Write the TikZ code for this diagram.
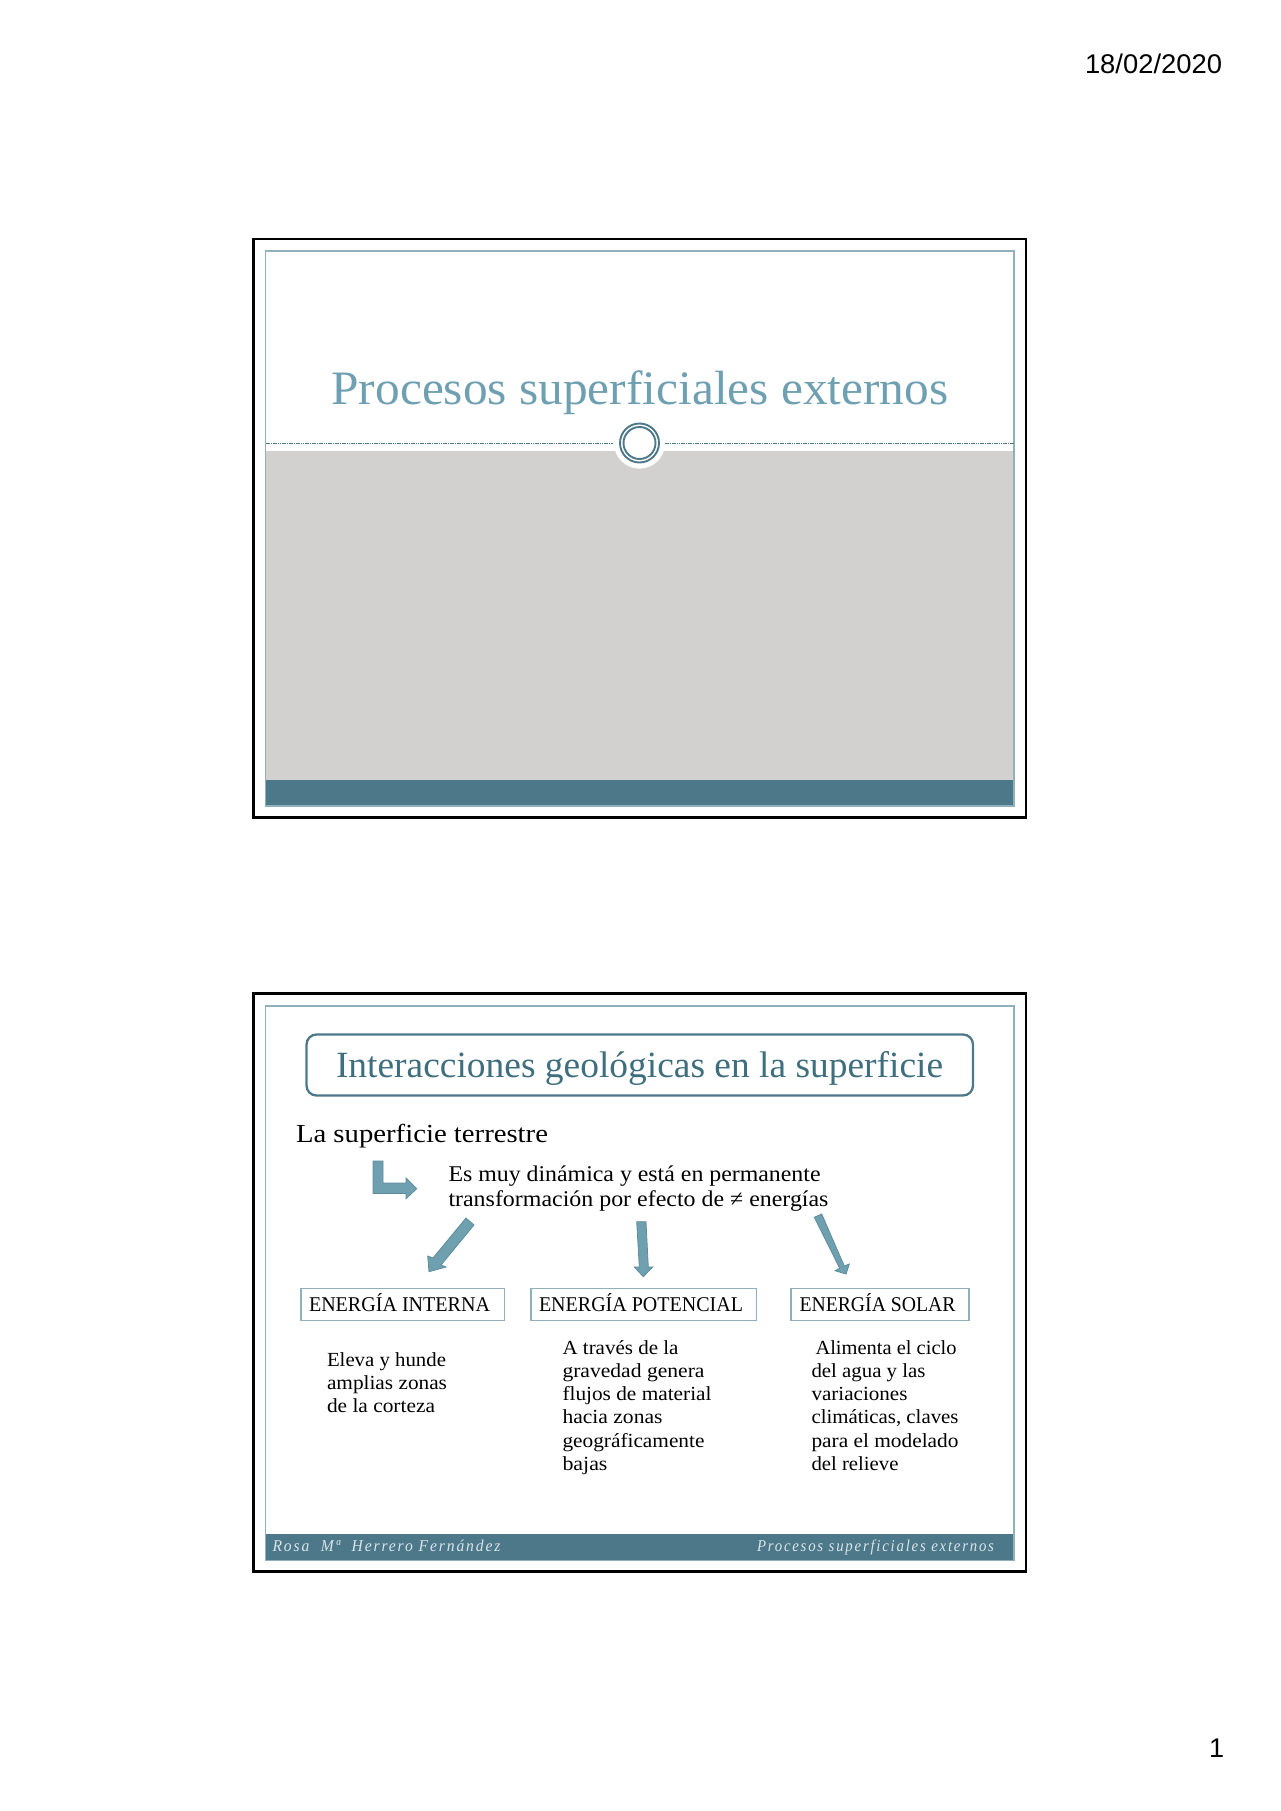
\documentclass[tikz,border=0pt]{standalone}
\usepackage{fontspec}
\setmainfont{Liberation Serif}
\newfontfamily\sansf{Liberation Sans}
\definecolor{barteal}{HTML}{4C7889}
\definecolor{frameteal}{HTML}{8FB0BC}
\definecolor{lightteal}{HTML}{6FA0B2}
\definecolor{darkteal}{HTML}{3F6E7E}
\definecolor{panelgray}{HTML}{D2D1CF}
\definecolor{arrowfill}{HTML}{6FA0B0}
\definecolor{arrowline}{HTML}{5F8C9C}
\definecolor{foottext}{HTML}{D9E6EA}
\newcommand{\fs}[1]{\fontsize{#1}{#1}\selectfont}
\newcommand{\fitw}[2]{\resizebox{#1pt}{\height}{#2}}
\tikzset{
  txt/.style={anchor=base west,inner sep=0pt,outer sep=0pt},
  outerframe/.style={draw=black,line width=2.4pt,fill=white},
  innerframe/.style={draw=frameteal,line width=1.4pt},
  energybox/.style={draw=frameteal,line width=1.5pt,fill=white},
  blockarrow/.style={fill=arrowfill,draw=arrowline,line width=0.8pt,line join=miter},
  dashrule/.style={draw=barteal,line width=1pt,dash pattern=on 1.6pt off 0.7pt},
  ring/.style={draw=barteal,line width=1.9pt},
}
\begin{document}
\begin{tikzpicture}[x=1pt,y=-1pt]
\useasboundingbox (0,0) rectangle (1280,1811);
\fill[white] (0,0) rectangle (1280,1811);

% page furniture
\node[txt] (date) at (1085,73.5) {\sansf\fs{27}\fitw{137}{18/02/2020}};
\node[txt] (pageno) at (1209,1757) {\sansf\fs{27}1};

% slide 1
\draw[outerframe] (253.5,239) rectangle (1026,817.5);
\fill[panelgray] (266,451) rectangle (1014,780);
\fill[barteal] (266,780) rectangle (1014,806);
\draw[innerframe] (265.5,251) rectangle (1014,806);
\draw[dashrule] (266,443) -- (613,443);
\draw[dashrule] (665,443) -- (1014,443);
\fill[white] (639.5,443) circle (25.6);
\draw[ring] (639.5,443) circle (19.5);
\draw[ring] (639.5,443) circle (16);
\node[txt,text=lightteal] (t1) at (331.5,404) {\fs{48}\fitw{617}{Procesos superficiales externos}};

% slide 2
\draw[outerframe] (253.5,993.5) rectangle (1026,1571.5);
\fill[barteal] (266,1534) rectangle (1014,1560.5);
\draw[innerframe] (265.5,1006) rectangle (1014,1560.5);
\draw[draw=barteal,line width=2.3pt,rounded corners=10pt] (306.5,1034.5) rectangle (973,1095.5);
\node[txt,text=darkteal] (t2) at (336,1077) {\fs{37}\fitw{607}{Interacciones geológicas en la superficie}};
\node[txt] (lead) at (296,1142) {\fs{26}\fitw{252}{La superficie terrestre}};
\node[txt] (es1) at (448.5,1181) {\fs{22.5}\fitw{372}{Es muy dinámica y está en permanente}};
\node[txt] (es2) at (448.5,1206.5) {\fs{22.5}\fitw{380}{transformación por efecto de ≠ energías}};

% block arrows
\draw[blockarrow] (373,1161) -- (383,1161) -- (383,1183) -- (406,1183) -- (406,1178) -- (416.7,1188.7) -- (406,1198.7) -- (406,1193.5) -- (373,1193.5) -- cycle;
\draw[blockarrow] (466,1218) -- (474,1225) -- (441,1265) -- (446,1267) -- (429,1271.7) -- (427.7,1256) -- (433,1258) -- cycle;
\draw[blockarrow] (636.7,1221.7) -- (646,1221.7) -- (648.3,1267) -- (652.7,1267) -- (643.3,1276.7) -- (634.3,1267) -- (639.3,1267) -- cycle;
\draw[blockarrow] (814.3,1217.3) -- (821.7,1214) -- (844.3,1266) -- (849.3,1264) -- (846,1274) -- (835,1270.7) -- (839.7,1268.3) -- cycle;

% energy boxes
\draw[energybox] (301,1288.5) rectangle (504.5,1320.5);
\draw[energybox] (531,1288.5) rectangle (756.5,1320.5);
\draw[energybox] (791,1288.5) rectangle (969,1320.5);
\node[txt] (e1) at (309,1311) {\fs{21}\fitw{181}{ENERGÍA INTERNA}};
\node[txt] (e2) at (539,1311) {\fs{21}\fitw{204}{ENERGÍA POTENCIAL}};
\node[txt] (e3) at (799.5,1311) {\fs{21}\fitw{156}{ENERGÍA SOLAR}};

% column 1
\node[txt] (c1a) at (327,1366) {\fs{20}\fitw{119}{Eleva y hunde}};
\node[txt] (c1b) at (327,1389) {\fs{20}\fitw{120}{amplias zonas}};
\node[txt] (c1c) at (327,1412.5) {\fs{20}\fitw{108}{de la corteza}};
% column 2
\node[txt] (c2a) at (562.5,1354) {\fs{20}\fitw{116}{A través de la}};
\node[txt] (c2b) at (562.5,1377) {\fs{20}\fitw{142}{gravedad genera}};
\node[txt] (c2c) at (562.5,1400.5) {\fs{20}\fitw{149}{flujos de material}};
\node[txt] (c2d) at (562.5,1423.5) {\fs{20}\fitw{100}{hacia zonas}};
\node[txt] (c2e) at (562.5,1447) {\fs{20}\fitw{142}{geográficamente}};
\node[txt] (c2f) at (562.5,1470) {\fs{20}\fitw{45}{bajas}};
% column 3
\node[txt] (c3a) at (815.5,1354) {\fs{20}\fitw{141}{Alimenta el ciclo}};
\node[txt] (c3b) at (811.5,1377) {\fs{20}\fitw{114}{del agua y las}};
\node[txt] (c3c) at (811.5,1400.5) {\fs{20}\fitw{96}{variaciones}};
\node[txt] (c3d) at (811.5,1423.5) {\fs{20}\fitw{147}{climáticas, claves}};
\node[txt] (c3e) at (811.5,1447) {\fs{20}\fitw{147}{para el modelado}};
\node[txt] (c3f) at (811.5,1470) {\fs{20}\fitw{87}{del relieve}};

% footer
\node[txt,text=foottext] (f1) at (272.5,1551) {\fs{16.5}\itshape\addfontfeatures{LetterSpace=12}\fitw{228}{Rosa\ \ Mª\ \ Herrero Fernández}};
\node[txt,text=foottext] (f2) at (757,1551) {\fs{16.5}\itshape\addfontfeatures{LetterSpace=12}\fitw{237}{Procesos superficiales externos}};
\end{tikzpicture}
\end{document}
